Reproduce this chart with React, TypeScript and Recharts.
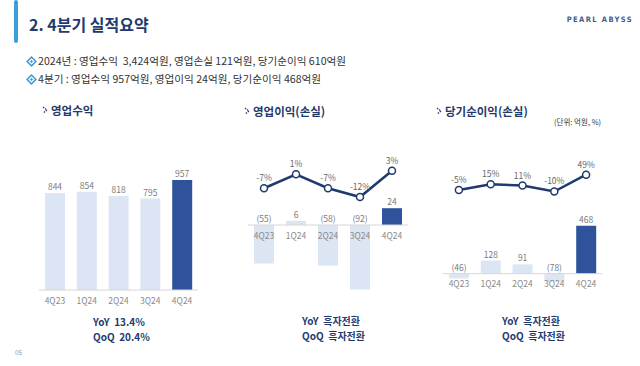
import { ComposedChart, Bar, Line, XAxis, YAxis, Cell, LabelList, ReferenceLine } from "recharts";

const quarters = ["4Q23", "1Q24", "2Q24", "3Q24", "4Q24"];
const revenue = [844, 854, 818, 795, 957];
const opProfit = [-55, 6, -58, -92, 24];
const opMargin = [-7, 1, -7, -12, 3];
const netProfit = [-46, 128, 91, -78, 468];
const netMargin = [-5, 15, 11, -10, 49];

const FONT = '"Noto Sans CJK KR", "Noto Sans", sans-serif';
const NAVY = "#1f3a6e";
const DARK_BAR = "#2e539b";
const LIGHT_BAR = "#dce5f3";

type PanelProps = {
  left: number;
  top: number;
  width: number;
  plotH: number;
  bars: number[];
  barDomain: [number, number];
  line?: number[];
  lineDomain?: [number, number];
};

const fmtBar = (v: number) => (v < 0 ? `(${Math.abs(v)})` : `${v}`);

function BarLabel(props: any) {
  const { x, y, width, height, value } = props;
  const top = Math.min(y, y + height);
  return (
    <text x={x + width / 2} y={top - 7} textAnchor="middle" dominantBaseline="central"
      fontSize={8.5} fill="#7a7a7a" fontFamily={FONT}>
      {fmtBar(value)}
    </text>
  );
}

function Panel({ left, top, width, plotH, bars, barDomain, line, lineDomain }: PanelProps) {
  const rows = quarters.map((q, i) => ({ q, bar: bars[i], pct: line ? line[i] : null }));
  // y of the zero line inside the svg (plot starts at the top)
  const zeroY = (plotH * barDomain[1]) / (barDomain[1] - barDomain[0]);
  const Tick = (p: any) => (
    <text x={p.x} y={zeroY + 9.5} textAnchor="middle" dominantBaseline="central"
      fontSize={8.5} fill="#8a8a8a" fontFamily={FONT}>
      {p.payload.value}
    </text>
  );
  return (
    <div style={{ position: "absolute", left, top }}>
      <ComposedChart width={width} height={plotH + 21} data={rows}
        margin={{ top: 0, right: 0, bottom: 20, left: 0 }}>
        <XAxis dataKey="q" height={1} axisLine={false} tickLine={false} tick={Tick} interval={0} />
        <YAxis yAxisId="bar" hide domain={barDomain} allowDataOverflow />
        <YAxis yAxisId="pct" hide domain={lineDomain ?? [0, 1]} allowDataOverflow />
        <ReferenceLine yAxisId="bar" y={0} stroke="#d6d6d6" strokeWidth={1} />
        <Bar yAxisId="bar" dataKey="bar" barSize={20} isAnimationActive={false}>
          {rows.map((r, i) => (
            <Cell key={r.q} fill={i === rows.length - 1 ? DARK_BAR : LIGHT_BAR} />
          ))}
          <LabelList dataKey="bar" content={BarLabel} />
        </Bar>
        {line && (
          <Line yAxisId="pct" dataKey="pct" stroke={NAVY} strokeWidth={2.5}
            dot={{ r: 3.5, fill: "#fff", stroke: NAVY, strokeWidth: 1.5 }}
            isAnimationActive={false}>
            <LabelList dataKey="pct" position="top" offset={7}
              formatter={(v: any) => `${v}%`}
              style={{ fontSize: 8.5, fill: "#666", fontFamily: FONT }} />
          </Line>
        )}
      </ComposedChart>
    </div>
  );
}

const abs = (l: number, t: number, extra: any = {}) => ({ position: "absolute" as const, left: l, top: t, ...extra });

function Diamond({ l, t }: { l: number; t: number }) {
  return (
    <svg style={abs(l, t)} width={11} height={11} viewBox="0 0 11 11">
      <polygon points="5.5,0 11,5.5 5.5,11 0,5.5" fill="#3f9ad8" />
      <polygon points="5.5,3 8,5.5 5.5,8 3,5.5" fill="none" stroke="#fff" strokeWidth={1.2} />
    </svg>
  );
}

function PanelTitle({ l, t, text }: { l: number; t: number; text: string }) {
  return (
    <div style={abs(l, t, { display: "flex", alignItems: "center", gap: 3, whiteSpace: "nowrap" })}>
      <svg width={6} height={8} viewBox="0 0 6 8">
        <polyline points="1,1 5,4 1,7" fill="none" stroke={NAVY} strokeWidth={1.3} strokeDasharray="1.5 1" />
      </svg>
      <span style={{ fontFamily: FONT, fontWeight: 700, fontSize: 11.5, color: NAVY, lineHeight: "14px" }}>{text}</span>
    </div>
  );
}

function Growth({ l, t, yoy, qoq }: { l: number; t: number; yoy: string; qoq: string }) {
  const st = { fontFamily: FONT, fontWeight: 700, fontSize: 10, color: NAVY, lineHeight: "15px", whiteSpace: "pre" as const };
  return (
    <div style={abs(l, t)}>
      <div style={st}>{"YoY  " + yoy}</div>
      <div style={st}>{"QoQ  " + qoq}</div>
    </div>
  );
}

export default function App() {
  const bullet = { fontFamily: FONT, fontSize: 10.6, color: "#333", lineHeight: "14px", whiteSpace: "pre" as const };
  return (
    <div style={{ position: "absolute", left: 0, top: 0, width: 640, height: 366, background: "#fff", overflow: "hidden" }}>
      <div style={abs(14, 0, { width: 4, height: 43, background: "#3aa0dc", borderRadius: 2 })} />
      <div style={abs(29, 12, { fontFamily: FONT, fontWeight: 700, fontSize: 16, color: NAVY, lineHeight: "24px", whiteSpace: "nowrap" })}>
        2. 4분기 실적요약
      </div>
      <div style={{ position: "absolute", right: 7, top: 14, fontFamily: '"DejaVu Sans Condensed", "DejaVu Sans", sans-serif', fontWeight: 700,
        fontSize: 7.5, color: "#3b5d8c", letterSpacing: 1.4, lineHeight: "12px", whiteSpace: "nowrap" }}>
        PEARL ABYSS
      </div>

      <Diamond l={26} t={56} />
      <div style={abs(38, 54, bullet)}>2024년 : 영업수익  3,424억원, 영업손실 121억원, 당기순이익 610억원</div>
      <Diamond l={26} t={74} />
      <div style={abs(38, 72, bullet)}>4분기 : 영업수익 957억원, 영업이익 24억원, 당기순이익 468억원</div>

      <PanelTitle l={42} t={103} text="영업수익" />
      <PanelTitle l={244} t={104} text="영업이익(손실)" />
      <PanelTitle l={436} t={104} text="당기순이익(손실)" />
      <div style={abs(554, 116, { fontFamily: FONT, fontSize: 7.5, color: "#333", lineHeight: "11px", whiteSpace: "nowrap" })}>(단위: 억원, %)</div>

      <Panel left={39} top={152} width={159} plotH={138} bars={revenue} barDomain={[0, 1200]} />
      <Panel left={248} top={141} width={160} plotH={161} bars={opProfit} barDomain={[-110, 120]}
        line={opMargin} lineDomain={[-72, 20]} />
      <Panel left={443} top={151} width={159} plotH={138} bars={netProfit} barDomain={[-150, 1200]}
        line={netMargin} lineDomain={[-352, 132]} />

      <Growth l={93} t={314} yoy="13.4%" qoq="20.4%" />
      <Growth l={302} t={313} yoy="흑자전환" qoq="흑자전환" />
      <Growth l={502} t={313} yoy="흑자전환" qoq="흑자전환" />

      <div style={abs(15, 347, { fontFamily: FONT, fontSize: 6.5, color: "#7f9cc0" })}>05</div>
    </div>
  );
}
